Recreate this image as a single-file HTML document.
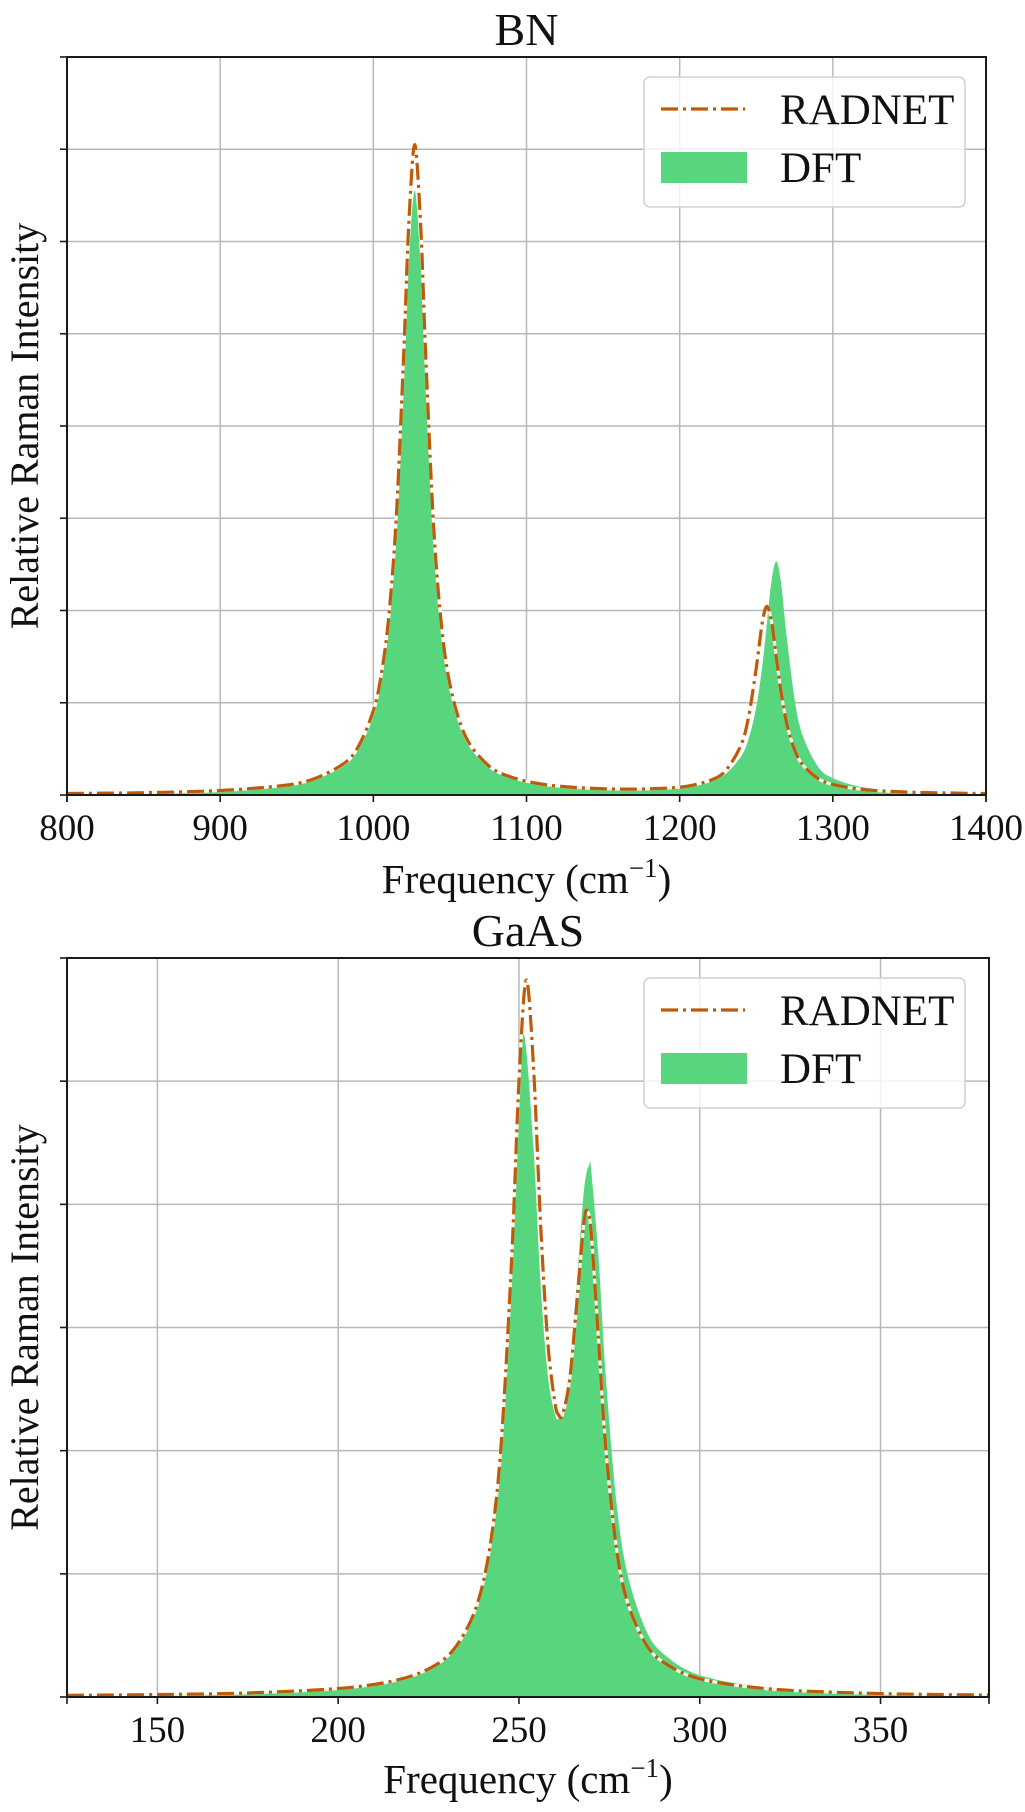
<!DOCTYPE html>
<html><head><meta charset="utf-8"><style>
html,body{margin:0;padding:0;background:#fff}
svg text{font-family:"Liberation Serif",serif;fill:#111}
</style></head><body>
<svg id="fig" width="1025" height="1807" viewBox="0 0 1025 1807" xmlns="http://www.w3.org/2000/svg"></svg>
<script>
// ---- BN panel data ----
const bnXTicks = [800, 900, 1000, 1100, 1200, 1300, 1400];
const bnRadnetFreq = [800,850,900,940,960,980,990,1000,1005,1010,1015,1020,1023,1027,1031,1034,1039,1044,1050,1060,1075,1090,1110,1130,1150,1170,1190,1205,1220,1230,1240,1245,1250,1254,1257,1260,1263,1266,1270,1275,1280,1290,1300,1320,1350,1400];
const bnRadnetVal = [0.016,0.025,0.049,0.101,0.168,0.332,0.519,0.913,1.29,1.92,3.02,4.85,6.14,7.05,6.14,4.85,3.02,1.92,1.20,0.641,0.322,0.194,0.118,0.084,0.068,0.064,0.073,0.096,0.159,0.263,0.539,0.848,1.377,1.877,2.045,1.877,1.507,1.134,0.768,0.491,0.335,0.182,0.114,0.059,0.031,0.015];
const bnDftFreq = [800,850,900,940,960,980,990,1000,1005,1010,1015,1020,1023,1027,1031,1034,1039,1044,1050,1060,1075,1090,1110,1130,1150,1170,1190,1205,1220,1230,1240,1245,1250,1254,1257,1260,1263,1266,1270,1275,1280,1290,1300,1320,1350,1400];
const bnDftVal = [0.015,0.024,0.045,0.095,0.157,0.308,0.482,0.848,1.194,1.781,2.806,4.503,5.70,6.55,5.70,4.50,2.81,1.78,1.115,0.597,0.300,0.182,0.112,0.080,0.066,0.063,0.073,0.095,0.148,0.229,0.417,0.609,0.951,1.406,1.867,2.325,2.533,2.325,1.70,1.045,0.659,0.315,0.182,0.084,0.040,0.018];
// ---- GaAS panel data ----
const gaXTicks = [150, 200, 250, 300, 350];
const gaRadnetFreq = [125,150,175,200,215,225,232,238,242,245,248,250,252,254,256,258,260,261,262,264,266,268,269,270,272,274,277,280,285,290,300,320,350,380];
const gaRadnetVal = [0.013,0.020,0.033,0.069,0.129,0.228,0.388,0.715,1.224,2.02,3.57,5.00,5.82,5.13,3.83,2.87,2.38,2.29,2.29,2.57,3.20,3.86,3.94,3.76,2.90,2.02,1.20,0.770,0.435,0.282,0.148,0.064,0.028,0.016];
const gaDftFreq = [125,150,175,200,215,225,232,238,242,245,248,250,251.5,254,256,258,260,261,262,264,266,268,269.5,270,272,274,277,280,285,290,300,320,350,380];
const gaDftVal = [0.014,0.021,0.035,0.071,0.132,0.232,0.393,0.724,1.245,2.07,3.62,4.91,5.37,4.47,3.34,2.61,2.29,2.26,2.32,2.68,3.37,4.12,4.33,4.27,3.57,2.61,1.57,1.00,0.551,0.350,0.177,0.073,0.031,0.017];

const NS = "http://www.w3.org/2000/svg";
const svg = document.getElementById('fig');
function mk(tag, attrs, parent){
  const e = document.createElementNS(NS, tag);
  for (const k in attrs) e.setAttribute(k, attrs[k]);
  (parent||svg).appendChild(e);
  return e;
}
function smoothPath(pts){
  let d = "M" + pts[0][0].toFixed(2) + "," + pts[0][1].toFixed(2);
  for (let i=0;i<pts.length-1;i++){
    const p0 = pts[i-1]||pts[i], p1=pts[i], p2=pts[i+1], p3=pts[i+2]||p2;
    const t=0.16;
    let c1x=p1[0]+(p2[0]-p0[0])*t, c1y=p1[1]+(p2[1]-p0[1])*t;
    let c2x=p2[0]-(p3[0]-p1[0])*t, c2y=p2[1]-(p3[1]-p1[1])*t;
    d += " C"+c1x.toFixed(2)+","+c1y.toFixed(2)+" "+c2x.toFixed(2)+","+c2y.toFixed(2)+" "+p2[0].toFixed(2)+","+p2[1].toFixed(2);
  }
  return d;
}

function panel(cfg){
  const g = mk('g', {});
  
  
  const L=cfg.left, R=cfg.right, T=cfg.top, B=cfg.bottom;
  const xs = v => L + (v - cfg.xmin) / (cfg.xmax - cfg.xmin) * (R - L);
  const ys = v => B - v / cfg.ymax * (B - T);
  for (const t of cfg.xticks){
    const l = mk('line', {x1:xs(t),x2:xs(t),y1:T,y2:B,stroke:'#b8b8b8','stroke-width':1.5}, g);
    
    
  }
  for (let i=1;i<cfg.ymax;i++){
    const l = mk('line', {x1:L,x2:R,y1:ys(i),y2:ys(i),stroke:'#b8b8b8','stroke-width':1.5}, g);
    
    
  }
  const dp = cfg.dftF.map((f,i)=>[xs(f), ys(cfg.dftV[i])]);
  const area = mk('path', {d: smoothPath(dp) + " L"+xs(cfg.dftF[cfg.dftF.length-1])+","+B+" L"+xs(cfg.dftF[0])+","+B+" Z", fill:'#57d67e', stroke:'none'}, g);
  
  
  const rp = cfg.radF.map((f,i)=>[xs(f), ys(cfg.radV[i])]);
  const rd = smoothPath(rp);
  const under = mk('path', {d: rd, fill:'none', stroke:'#ffffff','stroke-width':3.2,'stroke-opacity':0.85}, g);
  
  
  const line = mk('path', {d: rd, fill:'none', stroke:'#bf5a08','stroke-width':3.2,'stroke-dasharray':'17 5 3 5'}, g);
  
  
  const fr = mk('rect', {x:L,y:T,width:R-L,height:B-T,fill:'none',stroke:'#1a1a1a','stroke-width':2}, g);
  
  
  for (const t of cfg.xticks.concat([cfg.xmin, cfg.xmax])){
    if (t < cfg.xmin || t > cfg.xmax) continue;
    const tk = mk('line', {x1:xs(t),x2:xs(t),y1:B,y2:B+7,stroke:'#1a1a1a','stroke-width':1.6}, g);
    
    
  }
  for (const t of cfg.xlabels){
    const tx = mk('text', {x:xs(t),y:cfg.tickY,'text-anchor':'middle','font-size':37}, g);
    tx.textContent = t;
    
    
  }
  for (let i=0;i<=cfg.ymax;i++){
    const tk = mk('line', {x1:L-7,x2:L,y1:ys(i),y2:ys(i),stroke:'#1a1a1a','stroke-width':1.6}, g);
    
    
  }
  const ti = mk('text', {x:(L+R)/2,y:cfg.titleY,'text-anchor':'middle','font-size':46}, g);
  ti.textContent = cfg.title;
  
  
  const xl = mk('text', {x:(L+R)/2,y:cfg.xlabelY,'text-anchor':'middle','font-size':41}, g);
  xl.innerHTML = 'Frequency (cm<tspan dy="-16" font-size="27">−1</tspan><tspan dy="16">)</tspan>';
  
  
  const cy=(T+B)/2;
  const yl = mk('text', {x:38,y:cy,'text-anchor':'middle','font-size':40,transform:'rotate(-90 38 '+cy+')'}, g);
  yl.textContent = 'Relative Raman Intensity';
  
  
  const lg = mk('g', {}, g);
  
  
  const lt = cfg.legendTop;
  mk('rect', {x:644,y:lt,width:321,height:130,rx:6,fill:'#ffffff','fill-opacity':0.82,stroke:'#d0d0d0','stroke-width':1.5}, lg);
  const le1 = mk('g', {}, lg);
  
  
  mk('line', {x1:661,x2:745,y1:lt+32,y2:lt+32,stroke:'#bf5a08','stroke-width':3.2,'stroke-dasharray':'17 5 3 5'}, le1);
  const t1 = mk('text', {x:780,y:lt+47,'font-size':43}, le1); t1.textContent='RADNET';
  const le2 = mk('g', {}, lg);
  
  
  mk('rect', {x:661,y:lt+75,width:86,height:31,fill:'#57d67e'}, le2);
  const t2 = mk('text', {x:780,y:lt+105,'font-size':43}, le2); t2.textContent='DFT';
}

panel({name:'bn-chart', title:'BN', left:67, right:986, top:57, bottom:795, xmin:800, xmax:1400, ymax:8,
  xticks:bnXTicks, xlabels:bnXTicks, radF:bnRadnetFreq, radV:bnRadnetVal, dftF:bnDftFreq, dftV:bnDftVal,
  titleY:45, tickY:840, xlabelY:893, legendTop:77});
panel({name:'gaas-chart', title:'GaAS', left:67, right:989, top:958, bottom:1697, xmin:125, xmax:380, ymax:6,
  xticks:gaXTicks, xlabels:gaXTicks, radF:gaRadnetFreq, radV:gaRadnetVal, dftF:gaDftFreq, dftV:gaDftVal,
  titleY:946, tickY:1742, xlabelY:1793, legendTop:978});
</script>
</body></html>
